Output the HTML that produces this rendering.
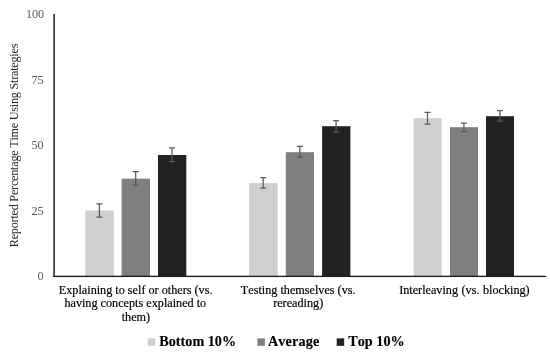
<!DOCTYPE html>
<html><head><meta charset="utf-8"><title>Chart</title>
<style>
html,body{margin:0;padding:0;background:#fff;}
body{width:550px;height:357px;overflow:hidden;}
svg{display:block;}
text{font-family:"Liberation Serif","Times New Roman",serif;font-kerning:none;font-feature-settings:"kern" 0,"liga" 0;}
.tick{font-size:12.2px;fill:#595959;text-anchor:end;}
.cat{font-size:12.2px;fill:#000;stroke:#000;stroke-width:0.18px;text-anchor:middle;}
.leg{font-size:14.2px;font-weight:bold;fill:#000;stroke:#000;stroke-width:0.15px;}
.ytitle{font-size:12.2px;fill:#262626;text-anchor:middle;}
</style></head><body>
<svg width="550" height="357" viewBox="0 0 550 357">
<rect width="550" height="357" fill="#ffffff"/>
<rect x="85.3" y="210.5" width="28.5" height="65.7" fill="#d0cece"/>
<rect x="121.6" y="178.7" width="28.4" height="97.5" fill="#7f7f7f"/>
<rect x="158.0" y="155.0" width="28.3" height="121.2" fill="#222222"/>
<rect x="249.1" y="183.1" width="28.6" height="93.1" fill="#d0cece"/>
<rect x="285.8" y="152.2" width="28.2" height="124.0" fill="#7f7f7f"/>
<rect x="322.1" y="126.2" width="28.3" height="150.0" fill="#222222"/>
<rect x="413.7" y="118.2" width="27.9" height="158.0" fill="#d0cece"/>
<rect x="450.0" y="127.2" width="28.0" height="149.0" fill="#7f7f7f"/>
<rect x="486.0" y="116.2" width="28.0" height="160.0" fill="#222222"/>
<path d="M99.4 203.8V217.2M96.4 203.8H102.4M96.4 217.2H102.4" stroke="#595959" stroke-width="1.25" fill="none"/>
<path d="M135.7 171.6V185.2M132.7 171.6H138.7M132.7 185.2H138.7" stroke="#595959" stroke-width="1.25" fill="none"/>
<path d="M172.0 147.9V161.7M169.0 147.9H175.0M169.0 161.7H175.0" stroke="#595959" stroke-width="1.25" fill="none"/>
<path d="M263.2 177.5V188.0M260.2 177.5H266.2M260.2 188.0H266.2" stroke="#595959" stroke-width="1.25" fill="none"/>
<path d="M299.8 146.3V157.1M296.8 146.3H302.8M296.8 157.1H302.8" stroke="#595959" stroke-width="1.25" fill="none"/>
<path d="M336.1 120.6V131.8M333.1 120.6H339.1M333.1 131.8H339.1" stroke="#595959" stroke-width="1.25" fill="none"/>
<path d="M427.5 112.4V124.0M424.5 112.4H430.5M424.5 124.0H430.5" stroke="#595959" stroke-width="1.25" fill="none"/>
<path d="M463.9 123.1V131.6M460.9 123.1H466.9M460.9 131.6H466.9" stroke="#595959" stroke-width="1.25" fill="none"/>
<path d="M499.9 110.6V121.1M496.9 110.6H502.9M496.9 121.1H502.9" stroke="#595959" stroke-width="1.25" fill="none"/>
<rect x="53.3" y="13.9" width="1.7" height="263.1" fill="#363636"/>
<rect x="53.2" y="275.7" width="492.9" height="1.35" fill="#1c1c1c"/>
<text class="tick" x="44.2" y="17.9">100</text>
<text class="tick" x="43.6" y="83.5">75</text>
<text class="tick" x="43.6" y="149.1">50</text>
<text class="tick" x="43.6" y="214.7">25</text>
<text class="tick" x="43.6" y="280.3">0</text>
<text class="ytitle" style="text-anchor:start;letter-spacing:-0.24px" transform="translate(18.2 0) rotate(-90)" x="-247.2" y="0">Reported Percentage Time Using Strategies</text>
<text class="cat" x="135.65" y="293.9">Explaining to self or others (vs.</text>
<text class="cat" x="135.3" y="307.2">having concepts explained to</text>
<text class="cat" x="135.9" y="320.8">them)</text>
<text class="cat" x="298.2" y="293.9">Testing themselves (vs.</text>
<text class="cat" x="298.2" y="307.2">rereading)</text>
<text class="cat" style="word-spacing:0.45px" x="464.4" y="293.9">Interleaving (vs. blocking)</text>
<rect x="147.6" y="338.35" width="7.5" height="7.5" fill="#d0cece"/>
<text class="leg" x="159.3" y="346.15">Bottom 10%</text>
<rect x="257.4" y="338.35" width="7.5" height="7.5" fill="#7f7f7f"/>
<text class="leg" style="letter-spacing:0.14px" x="267.95" y="346.15">Average</text>
<rect x="336.7" y="338.35" width="7.5" height="7.5" fill="#222222"/>
<text class="leg" x="348.3" y="346.15">Top 10%</text>
</svg>
</body></html>
